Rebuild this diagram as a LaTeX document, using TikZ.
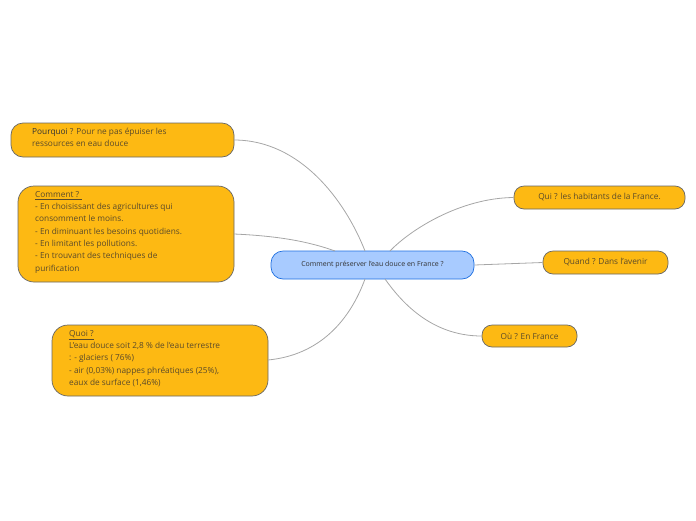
\documentclass[tikz,border=0pt]{standalone}
\usepackage{fontspec}
\setmainfont{Open Sans}
\definecolor{org}{HTML}{FDB913}
\definecolor{txt}{HTML}{5A4A2A}
\definecolor{cblue}{HTML}{A8CBFF}
\definecolor{cbord}{HTML}{1E6FE0}
\begin{document}
\begin{tikzpicture}[x=1pt,y=-1pt,
 leaf/.style={draw=black!60,fill=org,rounded corners=#1,line width=0.7pt},
 lt/.style={anchor=north west,inner sep=0,text=txt,font=\fontsize{8.3}{12.3}\selectfont,align=left},
 conn/.style={draw=black!35,line width=0.8pt}]
\useasboundingbox (0,0) rectangle (696,520);
\draw[leaf=12pt] (11,123) rectangle (234,157);
\node[lt] (pq) at (32,128) {\textcolor{black!80}{Pourquoi} ? Pour ne pas épuiser les\\ressources en eau douce};
\draw[leaf=16pt] (18,186) rectangle (234,282);
\node[lt] (cm) at (35,191) {\underline{Comment ? }\\- En choisissant des agricultures qui\\consomment le moins.\\- En diminuant les besoins quotidiens.\\- En limitant les pollutions.\\- En trouvant des techniques de\\purification};
\draw[leaf=16pt] (52,325) rectangle (268,396);
\node[lt] (qu) at (69,330) {\underline{Quoi ?}\\L'eau douce soit 2,8 \% de l'eau terrestre\\: - glaciers ( 76\%)\\- air (0,03\%) nappes phréatiques (25\%),\\eaux de surface (1,46\%)};
\node[draw=cbord,fill=cblue,rounded corners=12pt,minimum width=203pt,minimum height=28pt,line width=0.7pt,font=\fontsize{7}{8}\selectfont,text=black!80] (c) at (372.5,265) {Comment préserver l'eau douce en France ?};
\node[leaf=10pt,minimum width=171pt,minimum height=23pt,text=txt,font=\fontsize{8.3}{10}\selectfont] (qui) at (599.5,197.5) {Qui ? les habitants de la France.};
\node[leaf=10pt,minimum width=125pt,minimum height=23pt,text=txt,font=\fontsize{8.3}{10}\selectfont] (qd) at (605.5,262.5) {Quand ? Dans l'avenir};
\node[leaf=10pt,minimum width=95pt,minimum height=22pt,text=txt,font=\fontsize{8.3}{10}\selectfont] (ou) at (529.5,336) {Où ? En France};
\coordinate (p1) at (234,140);
\coordinate (p2) at (234,234);
\coordinate (p3) at (268,360);
\begin{scope}[on background layer/.style={}]
\draw[conn] (p1) .. controls (300,140) and (345,200) .. (365,251);
\draw[conn] (p2) .. controls (280,236) and (310,242) .. (335,251);
\draw[conn] (p3) .. controls (320,355) and (350,320) .. (365,279);
\draw[conn] (qui.west) .. controls (460,198) and (410,230) .. (390,251);
\draw[conn] (c.east) -- (qd.west);
\draw[conn] (ou.west) .. controls (430,336) and (400,300) .. (385,279);
\end{scope}
\end{tikzpicture}
\end{document}
